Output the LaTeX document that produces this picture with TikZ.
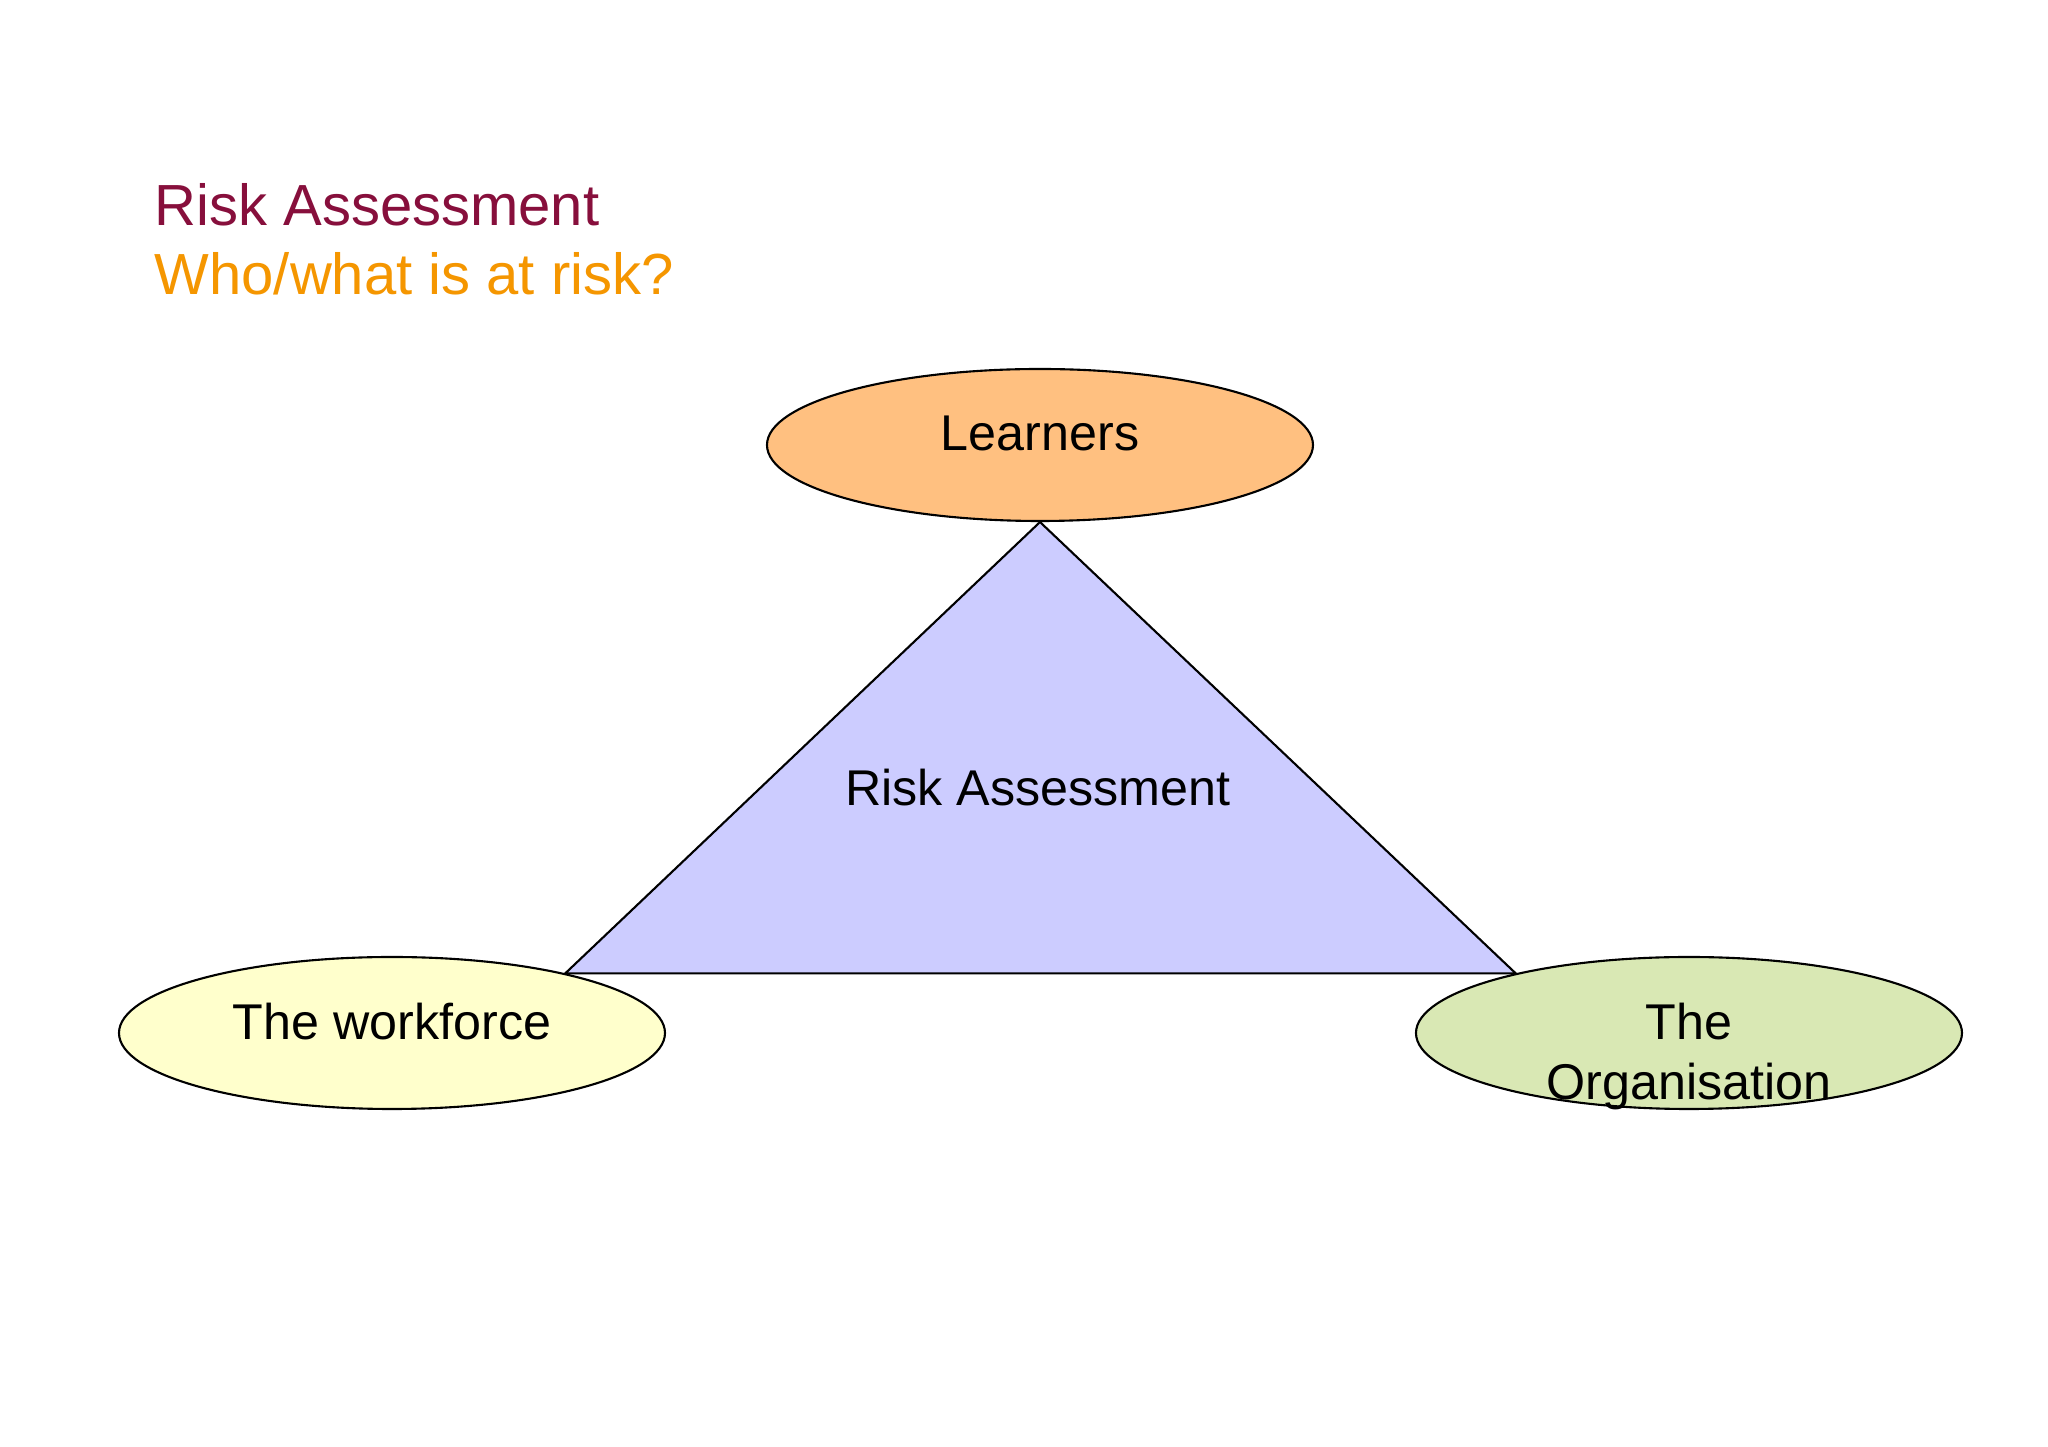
\documentclass[tikz,border=0pt]{standalone}
\usepackage{fontspec}
\setmainfont{Liberation Sans}
\usepackage{tikz}
\usetikzlibrary{shapes.geometric, positioning}
\definecolor{titleRed}{RGB}{135,15,60}
\definecolor{titleOrange}{RGB}{245,150,0}
\definecolor{learnFill}{RGB}{255,192,128}
\definecolor{workFill}{RGB}{255,255,204}
\definecolor{orgFill}{RGB}{217,232,180}
\definecolor{triFill}{RGB}{204,204,255}

\begin{document}
\begin{tikzpicture}[
    blob/.style={ellipse, draw, line width=0.6pt, minimum width=5.46cm,
      minimum height=1.52cm, inner sep=0pt},
    lbl/.style={inner sep=0pt, anchor=base, font=\fontsize{14.3}{17}\selectfont},
    headline/.style={inner sep=0pt, anchor=base west, font=\fontsize{16.5}{20}\selectfont}
    ]
    \useasboundingbox[fill=white] (0,0) rectangle (20.48,-14.47);

    \node[headline, text=titleRed] (title) at (1.54,-2.26) {Risk Assessment};
    \node[headline, text=titleOrange] (question) at (1.54,-2.95) {Who/what is at risk?};

    \node[blob, fill=learnFill] (learners) at (10.40,-4.45) {};
    \node[blob, fill=workFill] (workforce) at (3.92,-10.33) {};
    \node[blob, fill=orgFill] (organisation) at (16.89,-10.33) {};

    \draw[line width=0.6pt, fill=triFill] 
      (learners.south) -- (workforce.19) -- (organisation.161) -- cycle;

    \node[lbl] (learnersText) at ([yshift=-0.06cm]learners.center) {Learners};
    \node[lbl] (workforceText) at ([yshift=-0.07cm]workforce.center) {The workforce};
    \node[lbl] (orgThe) at ([yshift=-0.07cm]organisation.center) {The};
    \node[lbl] (orgName) at ([yshift=-0.67cm]organisation.center) {Organisation};
    \node[lbl] (riskText) at (10.38,-8.06) {Risk Assessment};
    \end{tikzpicture}
\end{document}
